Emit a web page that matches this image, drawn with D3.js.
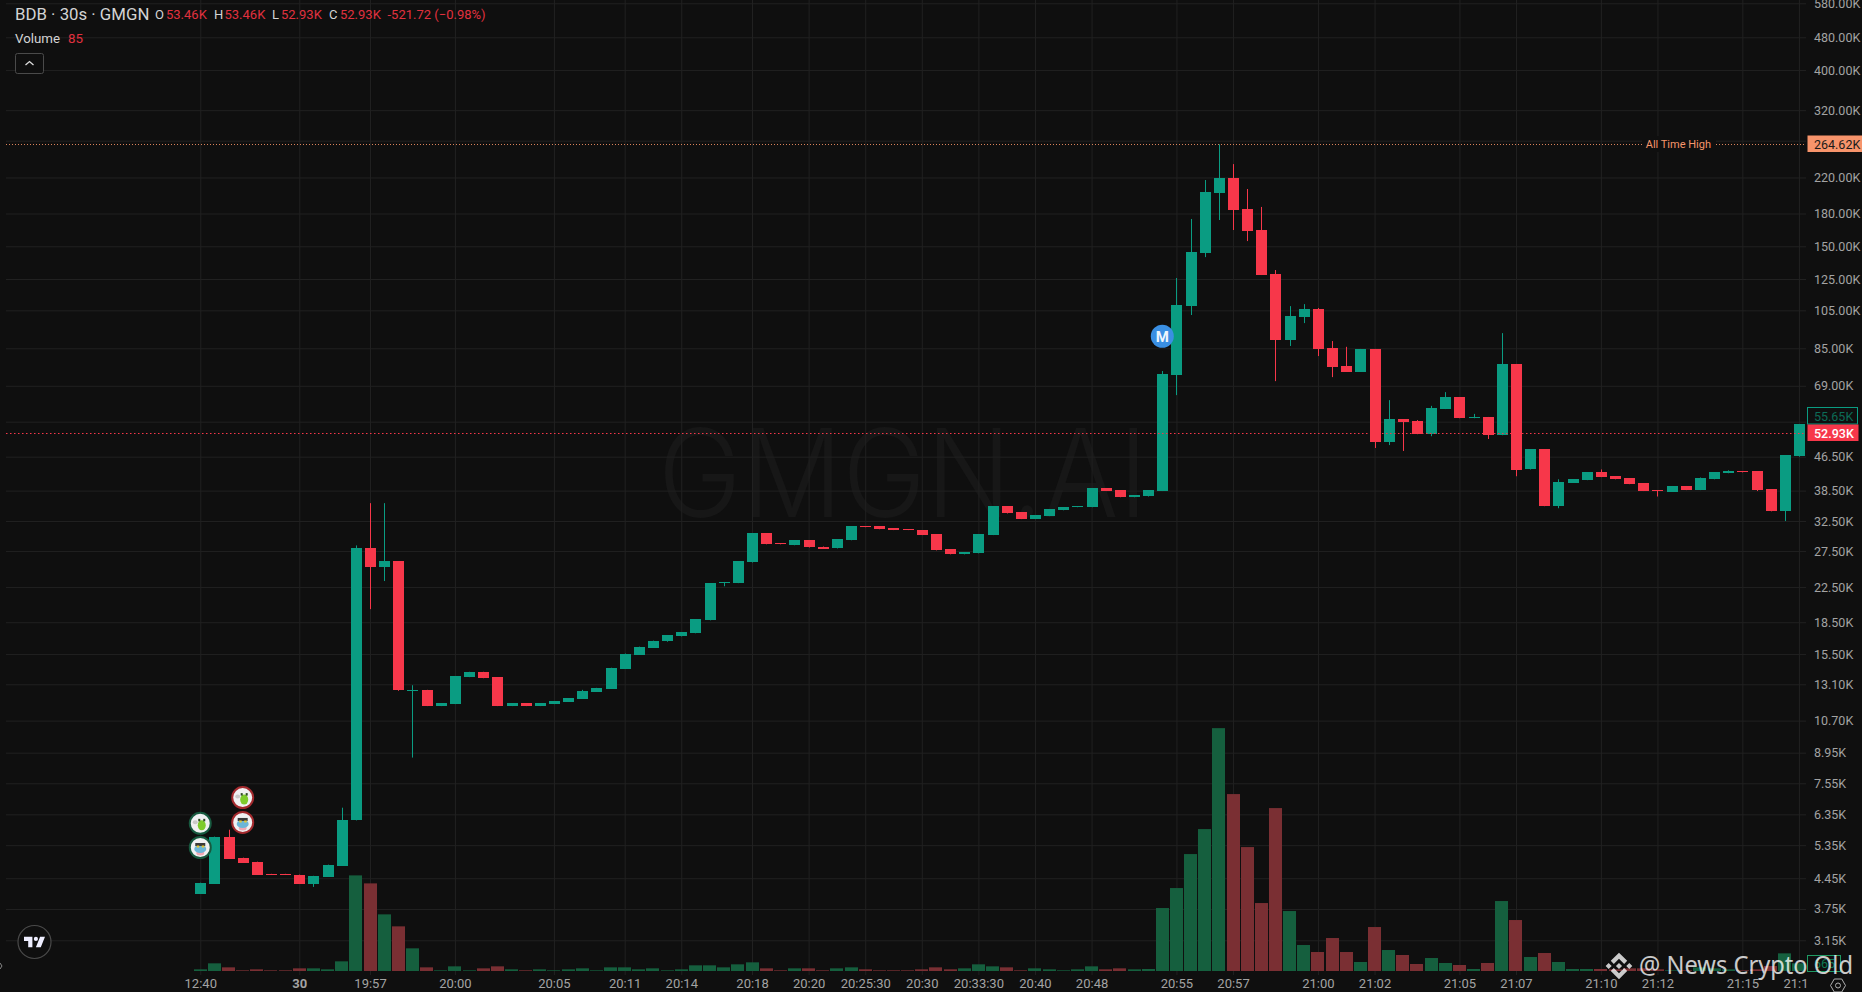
<!DOCTYPE html>
<html>
<head>
<meta charset="utf-8">
<title>BDB 30s GMGN</title>
<script src="https://cdn.jsdelivr.net/npm/d3@7"></script>
<style>
html, body { margin: 0; padding: 0; background: #0f0f0f; overflow: hidden; }
text { font-family: Roboto, sans-serif; }
</style>
</head>
<body>
<div id="wrapper"></div>
<script>
// prices in K, one entry per 30s candle
var opens = [
  4.08,4.32,5.61,4.99,4.88,4.56,4.56,4.54,4.32,4.49,
  4.77,6.14,27.9,25.1,25.96,12.63,12.7,11.6,11.73,13.63,
  14.04,13.63,11.6,11.8,11.6,11.73,11.87,12.07,12.57,12.77,
  14.28,15.45,16.05,16.6,17.1,17.4,18.7,23.0,23.0,25.8,
  30.4,28.7,28.4,29.2,28.2,27.9,29.2,31.6,31.6,31.2,
  31.05,30.9,30.2,27.75,27.0,27.15,30.05,35.3,34.1,32.85,
  33.4,34.5,35.1,35.1,39.0,38.6,37.1,37.25,38.4,73.2,
  107.5,144.5,201.8,219.3,184.6,164.2,128.5,89.0,101.2,105.8,
  85.2,77.0,74.5,84.7,50.4,57.3,56.7,52.7,60.6,64.8,
  57.6,58.0,52.4,77.9,43.3,48.5,35.3,40.2,40.8,42.6,
  41.7,41.2,40.1,38.6,38.2,39.5,38.6,41.0,42.4,42.9,
  42.9,38.8,34.3,46.5];
var closes = [
  4.34,5.61,4.96,4.86,4.54,4.54,4.54,4.32,4.51,4.80,
  6.17,27.9,25.1,25.96,12.63,12.7,11.6,11.8,13.7,14.04,
  13.55,11.6,11.8,11.6,11.8,11.93,12.13,12.63,12.84,14.36,
  15.54,16.15,16.7,17.2,17.5,18.8,23.0,23.15,25.96,30.4,
  28.55,28.55,29.2,28.05,27.9,29.35,31.6,31.4,31.05,30.9,
  30.9,30.05,27.6,27.0,27.3,30.2,35.3,33.9,32.85,33.55,
  34.7,35.1,35.3,39.0,38.4,37.1,37.5,38.6,73.63,108.1,
  145.3,202.9,219.3,183.6,163.3,127.8,89.0,101.7,105.8,84.7,
  76.6,74.5,84.7,50.4,57.3,56.4,52.7,61.0,64.8,57.6,
  58.0,52.4,77.9,43.3,48.5,35.3,40.4,41.0,42.6,41.5,
  41.0,39.9,38.4,38.4,39.5,38.6,41.2,42.6,42.9,42.6,
  38.6,34.3,46.9,55.65];
var highs = [
  4.34,5.61,5.83,4.99,4.88,4.56,4.56,4.54,4.51,4.80,
  6.59,28.37,35.9,35.9,25.96,13.03,12.7,11.8,13.7,14.04,
  14.04,13.63,11.8,11.8,11.8,11.93,12.13,12.7,12.84,14.36,
  15.54,16.15,16.7,17.2,17.5,18.8,23.0,23.15,25.96,30.4,
  30.4,28.7,29.2,29.2,28.2,29.35,31.6,31.6,31.6,31.2,
  31.05,30.9,30.2,27.75,27.3,30.2,35.3,35.3,34.1,33.55,
  34.7,35.1,35.3,39.0,39.0,38.6,37.5,38.6,74.9,125.7,
  174.6,216.9,264.62,237.0,206.3,186.7,131.4,107.5,108.7,106.4,
  88.5,85.7,84.7,84.7,63.7,57.3,57.0,61.7,66.6,64.8,
  59.0,58.0,92.5,77.9,48.5,48.5,41.0,41.0,42.6,43.3,
  41.7,41.2,40.1,38.6,39.5,39.5,41.4,42.6,43.1,42.9,
  42.9,38.8,46.9,55.65];
var lows = [
  4.08,4.32,4.96,4.86,4.54,4.54,4.54,4.32,4.24,4.49,
  4.77,6.14,19.9,23.27,12.63,8.71,11.6,11.6,11.73,13.63,
  13.55,11.6,11.6,11.6,11.6,11.73,11.87,12.07,12.57,12.77,
  14.28,15.45,16.05,16.6,17.1,17.4,18.7,22.6,23.0,25.8,
  28.55,28.55,28.4,28.05,27.9,27.9,29.2,31.4,31.05,30.9,
  30.9,30.05,27.6,27.0,27.0,27.15,30.05,33.9,32.85,32.85,
  33.4,34.5,35.1,35.1,38.4,37.1,37.1,37.25,38.4,65.5,
  102.3,141.2,173.6,164.2,154.4,127.8,70.8,86.1,97.8,81.4,
  72.4,74.5,74.5,48.8,49.6,48.0,52.7,52.1,60.6,57.6,
  57.6,51.3,52.4,41.7,43.3,35.3,34.9,40.2,40.8,41.5,
  41.0,39.9,38.4,37.25,38.2,38.6,38.6,41.0,42.4,42.6,
  38.4,34.3,32.5,46.5];
var volumes = [
  144,660,316,57,144,57,57,230,230,144,
  832,8237,7548,4879,3846,1952,316,57,402,57,
  230,402,144,57,144,57,144,230,57,316,
  316,144,230,57,144,488,488,316,574,746,
  230,57,230,230,57,230,316,144,57,57,
  57,144,316,144,230,574,402,316,57,230,
  144,57,144,402,144,230,144,172,5424,7146,
  10074,12226,20922,15240,10676,5855,14034,5166,2239,1636,
  2841,1636,775,3788,1808,1378,603,1119,689,517,
  172,689,6027,4391,1205,1550,775,172,172,172,
  144,230,230,144,57,57,316,230,144,57,
  144,430,1521,665];

var priceTicks = [580,480,400,320,270,220,180,150,125,105,85,69,56.5,46.5,38.5,32.5,27.5,22.5,18.5,15.5,13.1,10.7,8.95,7.55,6.35,5.35,4.45,3.75,3.15];
// grid levels whose label is covered by a price tag in the picture
var coveredTicks = [270,56.5];
var timeTickIndex = [0,7,12,18,25,30,34,39,43,47,51,55,59,63,69,73,79,83,89,93,99,103,109,113];
var timeTickLabels = ["12:40","30","19:57","20:00","20:05","20:11","20:14","20:18","20:20","20:25:30","20:30","20:33:30","20:40","20:48","20:55","20:57","21:00","21:02","21:05","21:07","21:10","21:12","21:15","21:1"];

var allTimeHigh = 264.62;
var hoverClose = 52.93;
var lastClose = 55.65;
var lastVolume = "665";

// trade markers: candle index, price level, kind
var markerIndex = [0,0,3,3];
var markerPrice = [6.04,5.28,6.97,6.07];
var markerSide = ["buy","buy","sell","sell"];
var markerFace = ["frog","glasses","frog","glasses"];

var green = "#0a9c82", red = "#f7374a";
var volGreen = "#155f3e", volRed = "#7a2f33";
var gridColor = "#212121", axisText = "#a3a3a3";
var width = 1862, height = 992, plotRight = 1806, plotLeft = 6, labelLeft = 1814;

var svg = d3.select("#wrapper").append("svg")
  .attr("width", width).attr("height", height)
  .style("display", "block")
  .style("background", "#0f0f0f");

var xScale = d3.scaleLinear().domain([0, 113]).range([200.25, 1798.95]);
var yScale = d3.scaleLog().domain([580, 3.15]).range([3.3, 940.3]);
var volScale = d3.scaleLinear().domain([0, 23000]).range([971, 704]);
var color = function(i) { return closes[i] >= opens[i] ? green : red; };

// watermark sits behind everything
svg.append("text")
  .attr("x", 658).attr("y", 517)
  .attr("fill", "#171717")
  .attr("textLength", 490)
  .attr("lengthAdjust", "spacingAndGlyphs")
  .style("font-family", "Inter, sans-serif")
  .style("font-weight", 300)
  .style("font-size", "122px")
  .text("GMGN.AI");

// axes double as the grid
var yAxis = svg.append("g")
  .attr("transform", "translate(" + plotRight + ",0)")
  .call(d3.axisRight(yScale)
    .tickValues(priceTicks)
    .tickSize(plotLeft - plotRight)
    .tickFormat(function(d) { return coveredTicks.indexOf(d) >= 0 ? "" : d3.format(".2f")(d) + "K"; }));
yAxis.select(".domain").remove();
yAxis.selectAll("line").attr("stroke", gridColor);
yAxis.selectAll("text")
  .attr("x", labelLeft - plotRight).attr("text-anchor", "start")
  .attr("fill", axisText)
  .style("font-size", "12.5px");

var xAxis = svg.append("g")
  .attr("transform", "translate(0,975)")
  .call(d3.axisBottom(xScale)
    .tickValues(timeTickIndex)
    .tickSize(-975)
    .tickFormat(function(d, i) { return timeTickLabels[i]; }));
xAxis.select(".domain").remove();
xAxis.selectAll("line").attr("stroke", gridColor);
xAxis.selectAll("text")
  .attr("y", 4).attr("dy", "0.71em")
  .attr("fill", axisText)
  .style("font-size", "13px");
xAxis.selectAll("text").filter(function(d, i) { return timeTickLabels[i] == "30"; })
  .style("font-weight", 700);
// last label is cut by the price scale
xAxis.selectAll("text").filter(function(d, i) { return i == timeTickLabels.length - 1; })
  .attr("text-anchor", "start").attr("x", -16);

// volume
svg.append("g").selectAll("rect")
  .data(volumes)
  .enter().append("rect")
  .attr("x", function(d, i) { return Math.round(xScale(i) - 6.5); })
  .attr("y", function(d) { return volScale(d); })
  .attr("width", 13)
  .attr("height", function(d) { return 971 - volScale(d); })
  .attr("fill", function(d, i) { return closes[i] >= opens[i] ? volGreen : volRed; });

// candles
var candles = svg.append("g").selectAll("g")
  .data(opens)
  .enter().append("g");
candles.append("line")
  .attr("x1", function(d, i) { return Math.round(xScale(i)) + 0.5; })
  .attr("x2", function(d, i) { return Math.round(xScale(i)) + 0.5; })
  .attr("y1", function(d, i) { return yScale(highs[i]); })
  .attr("y2", function(d, i) { return yScale(lows[i]); })
  .attr("stroke", function(d, i) { return color(i); });
candles.append("rect")
  .attr("x", function(d, i) { return Math.round(xScale(i)) - 5; })
  .attr("y", function(d, i) { return Math.round(yScale(Math.max(opens[i], closes[i]))); })
  .attr("width", 11)
  .attr("height", function(d, i) {
    return Math.max(1, Math.round(yScale(Math.min(opens[i], closes[i])) - yScale(Math.max(opens[i], closes[i]))));
  })
  .attr("fill", function(d, i) { return color(i); });

// price lines
svg.append("line")
  .attr("x1", plotLeft).attr("x2", plotRight)
  .attr("y1", Math.round(yScale(allTimeHigh)) + 0.5).attr("y2", Math.round(yScale(allTimeHigh)) + 0.5)
  .attr("stroke", "#d9825a").attr("stroke-dasharray", "1 2");
svg.append("line")
  .attr("x1", plotLeft).attr("x2", plotRight)
  .attr("y1", Math.round(yScale(hoverClose)) + 0.5).attr("y2", Math.round(yScale(hoverClose)) + 0.5)
  .attr("stroke", red).attr("stroke-dasharray", "1.5 2.5");
svg.append("rect")
  .attr("x", 1642).attr("y", 136).attr("width", 74).attr("height", 16)
  .attr("fill", "#0f0f0f");
svg.append("text")
  .attr("x", 1711).attr("y", yScale(allTimeHigh) + 4)
  .attr("text-anchor", "end")
  .attr("fill", "#f7966b")
  .style("font-size", "11px")
  .text("All Time High");

// right side price tags, shift keeps them from stacking on each other
function tag(value, shift, fill, stroke, textColor, weight, w) {
  var y = Math.round(yScale(value)) + shift;
  svg.append("rect")
    .attr("x", 1807.5).attr("y", y - 8.5)
    .attr("width", w).attr("height", 16.5)
    .attr("fill", fill).attr("stroke", stroke);
  svg.append("text")
    .attr("x", labelLeft).attr("y", y + 4.5)
    .attr("fill", textColor)
    .style("font-size", "12.5px")
    .style("font-weight", weight)
    .text(d3.format(".2f")(value) + "K");
}
tag(lastClose, -8, "#0f0f0f", green, "#0c6b57", 400, 50);
tag(hoverClose, 0, red, "none", "#ffffff", 500, 51);
tag(allTimeHigh, 0, "#f7946b", "none", "#1a1a1a", 400, 55);

// volume tag
svg.append("rect")
  .attr("x", 1807.5).attr("y", 955.5).attr("width", 33).attr("height", 16)
  .attr("fill", "#0f0f0f").attr("stroke", "#1f9a63");
svg.append("text")
  .attr("x", labelLeft).attr("y", 968)
  .attr("fill", "#0c7a55").style("font-size", "12.5px")
  .text(lastVolume);

// buy / sell bubbles
var markers = svg.append("g").selectAll("g")
  .data(markerIndex)
  .enter().append("g")
  .attr("transform", function(d, i) {
    return "translate(" + xScale(d) + "," + yScale(markerPrice[i]) + ")";
  });
markers.append("circle")
  .attr("r", 10.5)
  .attr("fill", "#f0f0f2")
  .attr("stroke", function(d, i) { return markerSide[i] == "buy" ? "#17593f" : "#a32a2e"; })
  .attr("stroke-width", 2);
markers.filter(function(d, i) { return markerFace[i] == "frog"; })
  .each(function() {
    var g = d3.select(this);
    g.append("ellipse").attr("cx", -5).attr("cy", -1).attr("rx", 2.5).attr("ry", 2).attr("fill", "#c9c9c9");
    g.append("ellipse").attr("cx", 1.5).attr("cy", 2).attr("rx", 4).attr("ry", 5).attr("fill", "#7ecb2c");
    g.append("rect").attr("x", -2).attr("y", -4.5).attr("width", 2).attr("height", 2.5).attr("fill", "#2d4a20");
    g.append("rect").attr("x", 3).attr("y", -4.5).attr("width", 2).attr("height", 2.5).attr("fill", "#2d4a20");
  });
markers.filter(function(d, i) { return markerFace[i] == "glasses"; })
  .each(function() {
    var g = d3.select(this);
    g.append("ellipse").attr("cx", 0).attr("cy", 5.5).attr("rx", 4).attr("ry", 2.5).attr("fill", "#f0a8b4");
    g.append("ellipse").attr("cx", 0).attr("cy", 1.5).attr("rx", 6).attr("ry", 4).attr("fill", "#6cb6d8");
    g.append("rect").attr("x", -5).attr("y", -4.5).attr("width", 10).attr("height", 3).attr("fill", "#3a3a3a");
    g.append("rect").attr("x", -3.5).attr("y", -2).attr("width", 2.5).attr("height", 2).attr("fill", "#e8c832");
    g.append("rect").attr("x", 1.5).attr("y", -2).attr("width", 2.5).attr("height", 2).attr("fill", "#e8c832");
  });

// M badge on candle 68
var mBadge = svg.append("g")
  .attr("transform", "translate(" + xScale(68) + "," + yScale(90.9) + ")");
mBadge.append("circle").attr("r", 11.5).attr("fill", "#3a8fe3");
mBadge.append("text")
  .attr("text-anchor", "middle").attr("y", 5.5)
  .attr("fill", "#eef6fd")
  .style("font-size", "15px").style("font-weight", 700)
  .text("M");

// legend top left
var legend = svg.append("g");
function put(x, y, str, fill, size) {
  legend.append("text")
    .attr("x", x).attr("y", y)
    .attr("fill", fill)
    .style("font-size", size + "px")
    .text(str);
}
var label = "#d4d4d4", down = "#e0313f";
put(15, 20, "BDB \u00b7 30s \u00b7 GMGN", label, 16.8);
put(155, 19, "O", label, 13);
put(166, 19, "53.46K", down, 13);
put(214, 19, "H", label, 13);
put(224.5, 19, "53.46K", down, 13);
put(272, 19, "L", label, 13);
put(281, 19, "52.93K", down, 13);
put(329, 19, "C", label, 13);
put(340, 19, "52.93K", down, 13);
put(387.5, 19, "-521.72 (\u22120.98%)", down, 13);
put(15, 43, "Volume", label, 13.3);
put(68, 43, "85", down, 13.3);
legend.append("rect")
  .attr("x", 15.5).attr("y", 53.5).attr("width", 28).attr("height", 20).attr("rx", 2)
  .attr("fill", "#0f0f0f").attr("stroke", "#4a4a4a");
legend.append("path")
  .attr("d", "M25.5 65 L29.5 61.5 L33.5 65")
  .attr("fill", "none").attr("stroke", "#dddddd").attr("stroke-width", 1.3);

// tradingview logo
var tv = svg.append("g").attr("transform", "translate(34.5,942)");
tv.append("circle").attr("r", 16.5).attr("fill", "#0f0f0f").attr("stroke", "#4a4a4a").attr("stroke-width", 1.2);
tv.append("path")
  .attr("transform", "translate(-11.9,-9.4) scale(0.7)")
  .attr("d", "M14 6H2v6h6v9h6V6Zm12 15h-7l6-15h7l-6 15Zm-7-9a3 3 0 1 0 0-6 3 3 0 0 0 0 6Z")
  .attr("fill", "#eeeeff");
// sliver of a cut off glyph on the left edge
svg.append("path").attr("d", "M0 963 L2 966 L0 969").attr("fill", "none").attr("stroke", "#888");

// settings hexagon bottom right
var hex = svg.append("g").attr("transform", "translate(1838,985.5)");
hex.append("path")
  .attr("d", d3.line()(d3.range(6).map(function(k) {
    var a = k * Math.PI / 3;
    return [7.5 * Math.cos(a), 7.5 * Math.sin(a)];
  })) + "Z")
  .attr("fill", "none").attr("stroke", "#b0b0b0");
hex.append("circle").attr("r", 2.5).attr("fill", "none").attr("stroke", "#b0b0b0");

// channel watermark bottom right
var mark = svg.append("g").attr("opacity", 0.78);
mark.append("path")
  .attr("transform", "translate(1605.5,952.5) scale(0.214)")
  .attr("d", "M38.73 53.2L63 28.93l24.28 24.28 14.12-14.13L63 .67 24.6 39.07zM.67 63l14.13-14.13L28.93 63 14.8 77.13zM38.73 72.8L63 97.07l24.28-24.28 14.12 14.12L63 125.33 24.6 86.93zM97.07 63l14.13-14.13L125.33 63l-14.13 14.13zM77.32 63L63 48.68 52.41 59.27l-1.22 1.22-2.51 2.51L63 77.33 77.32 63z")
  .attr("fill", "#ffffff");
mark.append("text")
  .attr("x", 1639).attr("y", 974)
  .attr("fill", "#ffffff")
  .attr("textLength", 214)
  .attr("lengthAdjust", "spacingAndGlyphs")
  .style("font-family", "'Noto Sans', sans-serif")
  .style("font-size", "25px")
  .text("@ News Crypto Old");
</script>
</body>
</html>
